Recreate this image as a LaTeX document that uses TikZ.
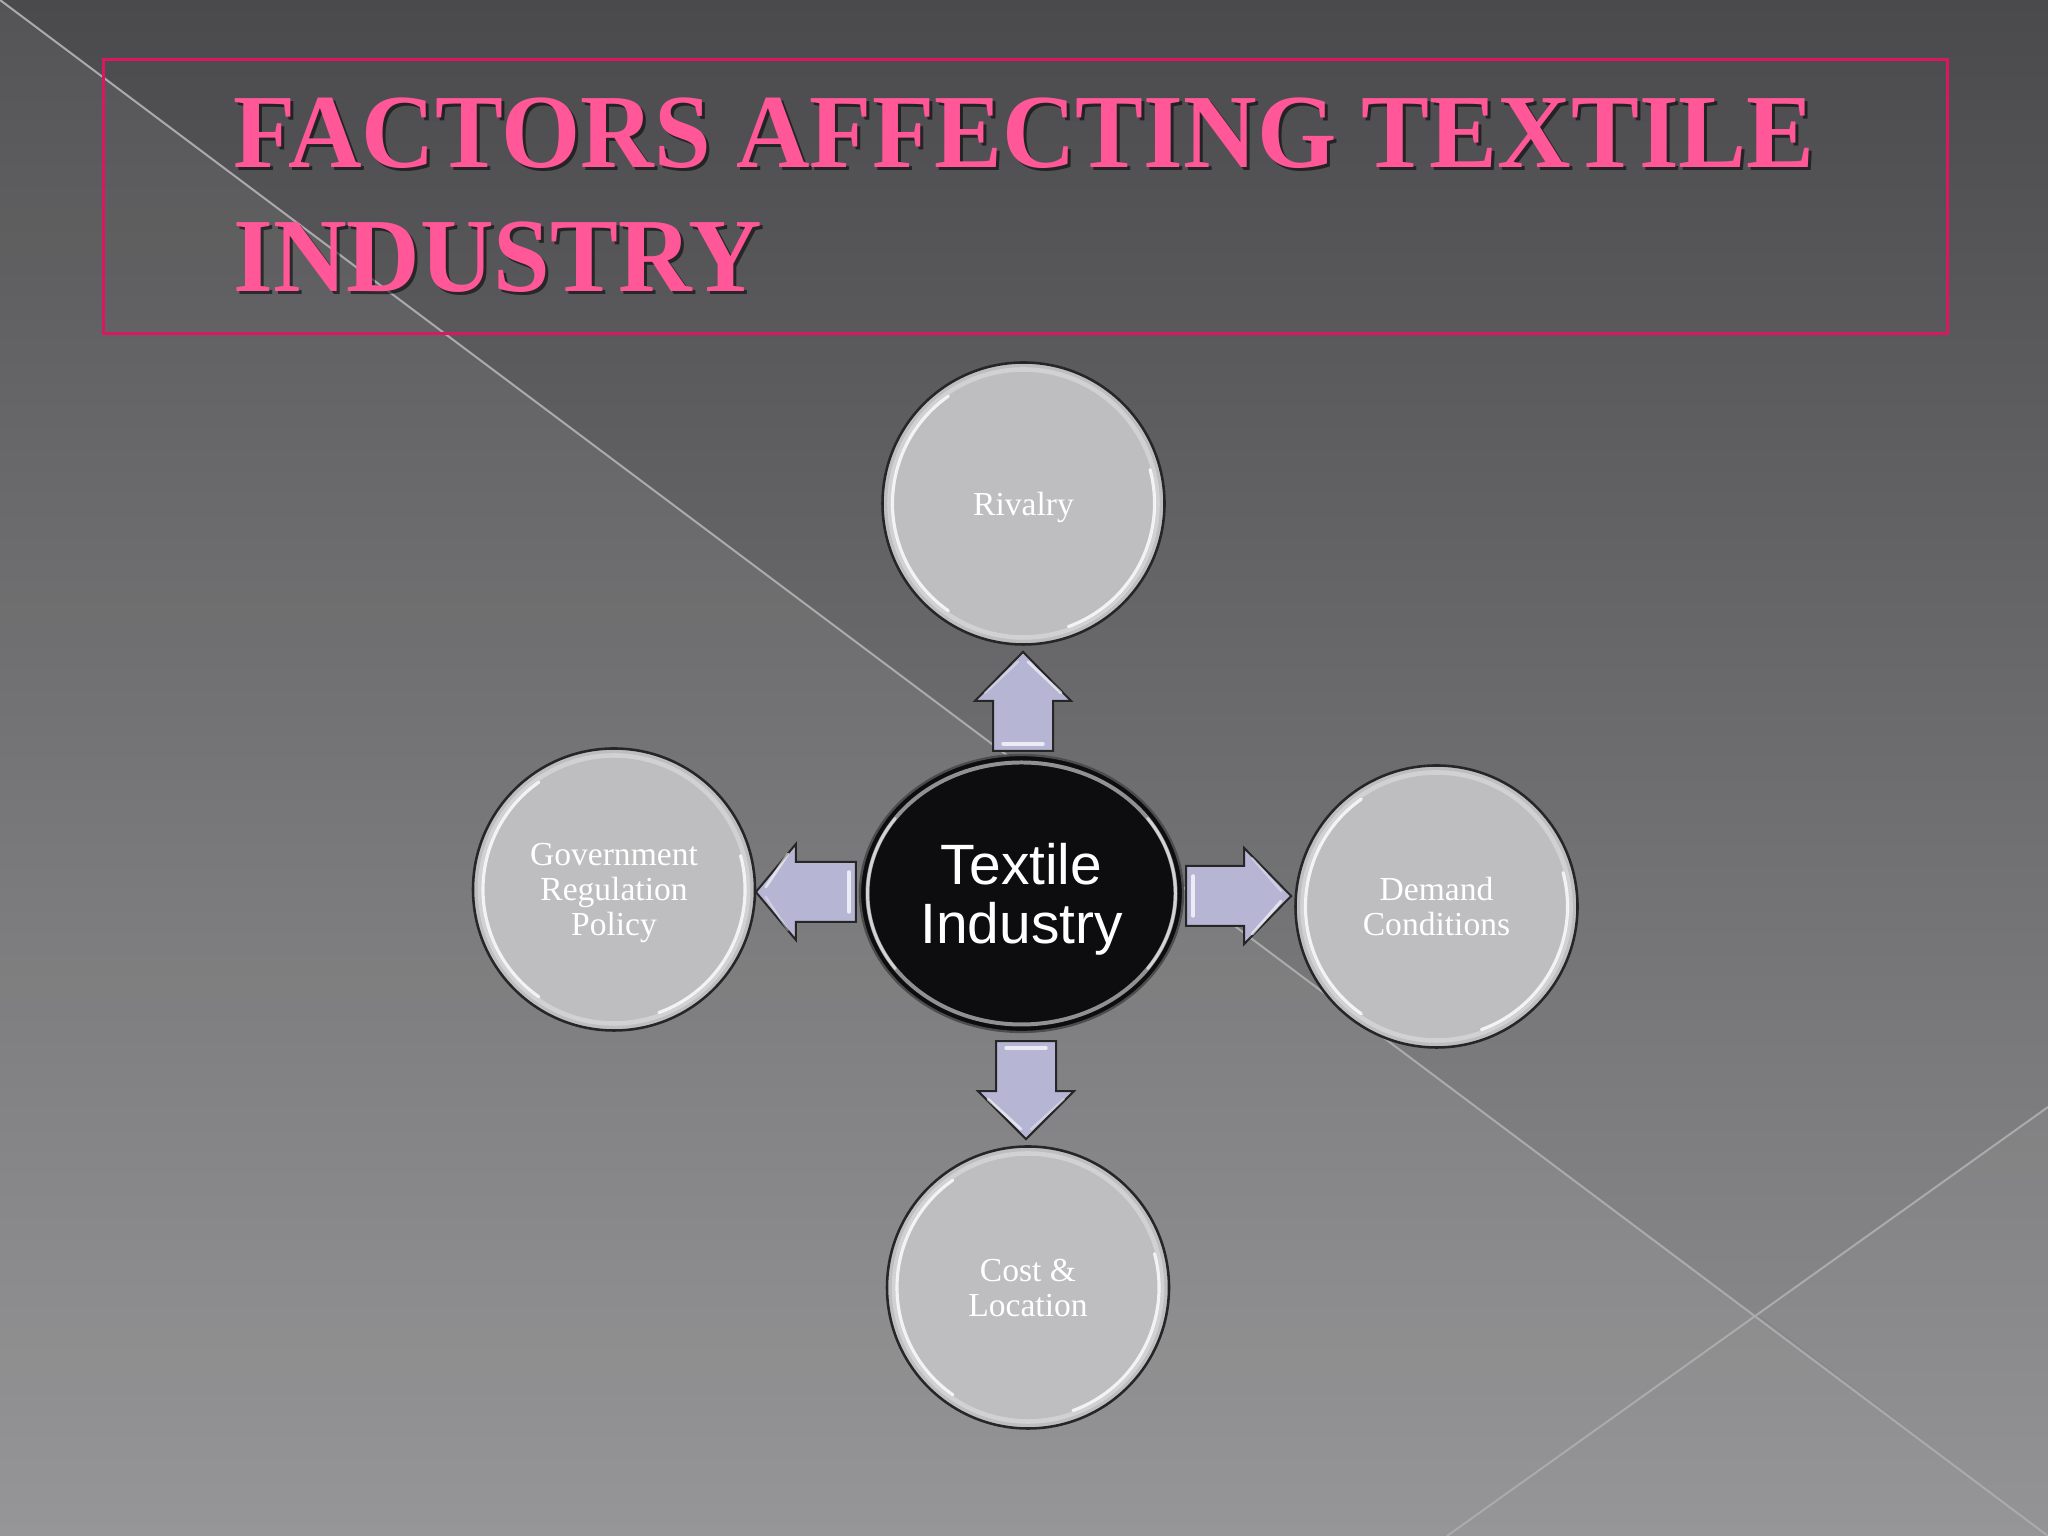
\documentclass[tikz,border=0pt]{standalone}
\usepackage{fontspec}
\setmainfont{Liberation Serif}
\setsansfont{Liberation Sans}
\usetikzlibrary{shapes.geometric,calc}
\definecolor{bgtop}{HTML}{4A4A4C}
\definecolor{bgbot}{HTML}{909092}
\definecolor{diagline}{HTML}{ABABAD}
\definecolor{boxpink}{HTML}{D8185F}
\definecolor{titlepink}{HTML}{FF5797}
\definecolor{circfill}{HTML}{BEBEC0}
\definecolor{arrfill}{HTML}{B6B6D4}
\definecolor{corefill}{HTML}{0D0D0F}

\tikzset{
 factor/.style={circle, minimum size=282*0.3515625pt, inner sep=0pt, fill=circfill, draw=black!85, line width=0.9pt, text=white, align=center, text depth=0pt, font=\fontsize{11.8}{12.4}\selectfont},
 core/.style={ellipse, minimum width=323*0.3515625pt, minimum height=277*0.3515625pt, inner sep=0pt, fill=corefill, draw=black!70!white, line width=0.8pt, text=white, align=center, text depth=0pt, font=\sffamily\fontsize{20}{20.8}\selectfont},
 blockarr/.style={fill=arrfill, draw=black!85, line width=0.7pt, line join=miter},
 titletext/.style={anchor=base west, inner sep=0pt, xscale=0.968, transform shape, text=titlepink, font=\bfseries\fontsize{37}{44}\selectfont},
 titleshadow/.style={anchor=base west, inner sep=0pt, xscale=0.968, transform shape, text=black, opacity=0.55, font=\bfseries\fontsize{37}{44}\selectfont},
 gloss/.style={white, line width=1.1pt, opacity=0.8, line cap=round},
}

\newcommand{\blockarrow}[4]{%
 \begin{scope}[shift={#1}, rotate=#2]
  \draw[blockarr] (0,-30) -- ({#3-#4},-30) -- ({#3-#4},-48) -- (#3,0) -- ({#3-#4},48) -- ({#3-#4},30) -- (0,30) -- cycle;
  \draw[white, opacity=0.75, line width=1.2pt, line cap=round] (7,-20) -- (7,20);
  \draw[white, opacity=0.6, line width=1pt, line cap=round] ({#3-#4+8},-38) -- ({#3-10},-5);
  \draw[white, opacity=0.35, line width=0.8pt, line cap=round] ({#3-#4+8},38) -- ({#3-10},5);
 \end{scope}}

\begin{document}
\begin{tikzpicture}[x=0.3515625pt, y=0.3515625pt]
\useasboundingbox (0,0) rectangle (2048,1536);
% background
\shade[top color=bgtop, bottom color=bgbot] (0,0) rectangle (2048,1536);
\fill[white, opacity=0.06] (0,1536) -- (2048,0) -- (0,0) -- cycle;
\fill[white, opacity=0.04] (1757,223) -- (2048,429) -- (2048,0) -- cycle;
\draw[diagline, line width=0.7pt] (0,1536) -- (2048,0);
\draw[diagline, line width=0.7pt] (1447,0) -- (2048,429);

% title
\node[draw=boxpink, line width=1.1pt, minimum width=1844*0.3515625pt, minimum height=274*0.3515625pt, anchor=north west, inner sep=0pt] (tbox) at (102,1478) {};
\node[titleshadow] (t1s) at (236,1365) {FACTORS AFFECTING TEXTILE};
\node[titleshadow] (t2s) at (236,1241) {INDUSTRY};
\node[titletext] (t1) at (233,1368) {FACTORS AFFECTING TEXTILE};
\node[titletext] (t2) at (233,1244) {INDUSTRY};

% nodes
\node[core] (ti) at (1021.5,642.5) {Textile\\Industry};
\node[factor] (riv) at (1023.5,1032.5) {Rivalry};
\node[factor] (gov) at (614,646.5) {Government\\Regulation\\Policy};
\node[factor] (dem) at (1436.5,629.5) {Demand\\Conditions};
\node[factor] (cost) at (1028,248.5) {Cost \&\\Location};

% gloss on circles
\foreach \n in {riv,gov,dem,cost} {
 \draw[white, opacity=0.3, line width=1.6pt] (\n.center) circle[radius=134];
 \draw[gloss] ($(\n.center)+(125:131)$) arc[start angle=125, end angle=235, radius=131];
 \draw[gloss] ($(\n.center)+(-70:131)$) arc[start angle=-70, end angle=15, radius=131];
}
% rim of core
\draw[gray!60, opacity=0.8, line width=1.4pt] (ti.center) ellipse[x radius=154, y radius=131];
\draw[white, opacity=0.6, line width=1pt, line cap=round] ($(ti.center)+({154*cos(145)},{131*sin(145)})$) arc[start angle=145, end angle=215, x radius=154, y radius=131];
\draw[white, opacity=0.6, line width=1pt, line cap=round] ($(ti.center)+({154*cos(-35)},{131*sin(-35)})$) arc[start angle=-35, end angle=35, x radius=154, y radius=131];

% block arrows
\blockarrow{($(ti.north)+(1.5,3)$)}{90}{99}{49}
\blockarrow{($(ti.south)+(4.5,-8)$)}{-90}{98}{48}
\blockarrow{($(ti.west)+(-3,1.5)$)}{180}{100}{40}
\blockarrow{($(ti.east)+(2,-2.5)$)}{0}{105}{47}
\end{tikzpicture}
\end{document}
